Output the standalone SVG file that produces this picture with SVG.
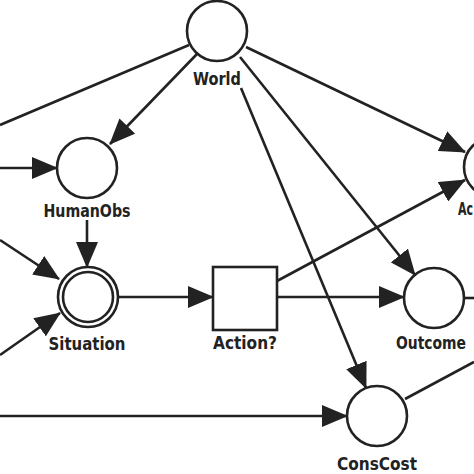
<svg xmlns="http://www.w3.org/2000/svg" width="474" height="474" viewBox="0 0 474 474">
<style>
.node{fill:#fff;stroke:#222;stroke-width:2.6}
.edge{fill:none;stroke:#222;stroke-width:2.6}
.lbl{font-family:"DejaVu Sans","Liberation Sans",sans-serif;font-weight:bold;font-size:17px;fill:#222;text-anchor:middle}
</style>
<defs>
<marker id="arr" markerUnits="userSpaceOnUse" markerWidth="26" markerHeight="22" refX="25" refY="11" orient="auto" viewBox="0 0 26 22">
<path d="M0,0 L26,11 L0,22 z" fill="#222"/>
</marker>
</defs>
<rect width="474" height="474" fill="#fff"/>
<g id="connectors">
<line class="edge" x1="0" y1="125" x2="189" y2="45"/>
<line class="edge" x1="197" y1="54" x2="110" y2="144" marker-end="url(#arr)"/>
<line class="edge" x1="0" y1="168" x2="57" y2="168" marker-end="url(#arr)"/>
<line class="edge" x1="87" y1="220" x2="87" y2="267" marker-end="url(#arr)"/>
<line class="edge" x1="0" y1="240" x2="59" y2="279" marker-end="url(#arr)"/>
<line class="edge" x1="0" y1="355" x2="60" y2="313" marker-end="url(#arr)"/>
<line class="edge" x1="118" y1="297" x2="213" y2="297" marker-end="url(#arr)"/>
<line class="edge" x1="277" y1="297" x2="404" y2="297" marker-end="url(#arr)"/>
<line class="edge" x1="277" y1="281" x2="465" y2="180" marker-end="url(#arr)"/>
<line class="edge" x1="246" y1="47" x2="465" y2="152" marker-end="url(#arr)"/>
<line class="edge" x1="240" y1="57" x2="415" y2="275" marker-end="url(#arr)"/>
<line class="edge" x1="241" y1="88" x2="366" y2="388" marker-end="url(#arr)"/>
<line class="edge" x1="0" y1="416" x2="347" y2="416" marker-end="url(#arr)"/>
<line class="edge" x1="405" y1="399" x2="474" y2="362"/>
<line class="edge" x1="464" y1="298" x2="474" y2="298"/>
</g>
<g id="World">
<circle class="node" cx="217" cy="31" r="30"/>
<text class="lbl" x="217" y="85" textLength="48" lengthAdjust="spacingAndGlyphs">World</text>
</g>
<g id="HumanObs">
<circle class="node" cx="87" cy="168" r="30"/>
<text class="lbl" x="87" y="217" textLength="87" lengthAdjust="spacingAndGlyphs">HumanObs</text>
</g>
<g id="Situation">
<circle class="node" cx="88" cy="297" r="30"/>
<circle class="node" cx="88" cy="297" r="25"/>
<text class="lbl" x="87" y="350" textLength="77" lengthAdjust="spacingAndGlyphs">Situation</text>
</g>
<g id="Action">
<rect class="node" x="213" y="267" width="64" height="63"/>
<text class="lbl" x="245" y="349" textLength="64" lengthAdjust="spacingAndGlyphs">Action?</text>
</g>
<g id="Outcome">
<circle class="node" cx="434" cy="298" r="30"/>
<text class="lbl" x="431" y="349" textLength="70" lengthAdjust="spacingAndGlyphs">Outcome</text>
</g>
<g id="ConsCost">
<circle class="node" cx="377" cy="416" r="30"/>
<text class="lbl" x="377" y="470" textLength="80" lengthAdjust="spacingAndGlyphs">ConsCost</text>
</g>
<g id="Ac">
<circle class="node" cx="494" cy="167" r="30"/>
<text class="lbl" x="458" y="215" style="text-anchor:start" textLength="15" lengthAdjust="spacingAndGlyphs">Ac</text>
</g>
</svg>
